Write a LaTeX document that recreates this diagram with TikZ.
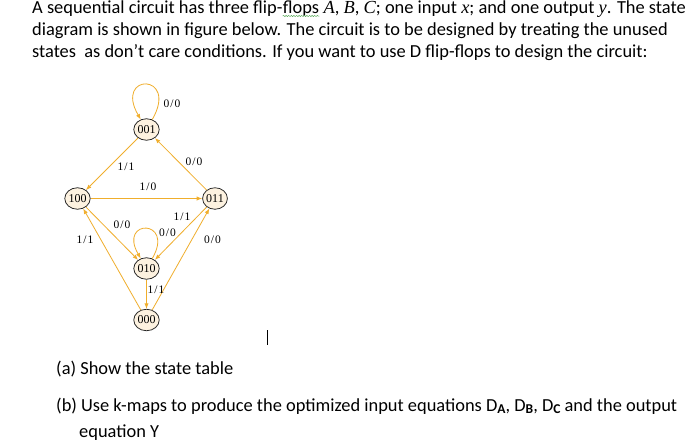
\documentclass[tikz,border=0pt]{standalone}
\usepackage{fontspec}
\setmainfont{Carlito}
\newfontfamily\serifd{Liberation Serif}
\usetikzlibrary{arrows.meta,shapes.geometric,decorations.pathmorphing}
\definecolor{edgecol}{RGB}{240,174,44}
\definecolor{nodefill}{RGB}{253,242,224}
\definecolor{nodeline}{RGB}{35,35,35}
\definecolor{squig}{RGB}{90,170,90}
\tikzset{
  state/.style={ellipse, draw=nodeline, line width=0.75pt, fill=nodefill,
    minimum width=24pt, minimum height=21.5pt, inner sep=0pt,
    font=\serifd\fontsize{12}{13}\selectfont},
  edge/.style={draw=edgecol, line width=0.8pt, -{Latex[length=5.5pt,width=4.2pt]}},
  lbl/.style={inner sep=0pt, font=\serifd\fontsize{11.5}{13}\selectfont},
  txt/.style={anchor=base west, inner sep=0pt, font=\fontsize{18.4}{22}\selectfont}
}
\newcommand{\slab}[2]{#1\kern1.1pt/\kern1.1pt#2}
\newcommand{\mvar}[1]{{\serifd\itshape #1}}
\newcommand{\subb}[1]{\raisebox{-1.8pt}{\fontsize{13.5}{15}\selectfont\bfseries #1}}
\begin{document}
\begin{tikzpicture}[x=1pt,y=-1pt]
\useasboundingbox (0,0) rectangle (694,447);
\fill[white] (0,0) rectangle (694,447);
% text
\node[txt] (t1a) at (32,13) {A sequential circuit has three flip-};
\node[txt] (t1b) at (t1a.base east) {flops};
\node[txt] (t1c) at (t1b.base east) {\ \mvar{A}, \mvar{B}, \mvar{C}; one input \mvar{x}; and one output \mvar{y}. The state};
\node[txt] (t2) at (32,35) {diagram is shown in figure below. The circuit is to be designed by treating the unused};
\node[txt] (t3) at (32,57.5) {states\ \ as don’t care conditions. If you want to use D flip-flops to design the circuit:};
\draw[squig, line width=0.5pt, decorate, decoration={snake, amplitude=0.6pt, segment length=2.6pt}] ([yshift=-3pt]t1b.base west) -- ([yshift=-3pt]t1b.base east);
% states
\node[state] (n001) at (146.5,129.5) {001};
\node[state] (n100) at (77.5,198.5) {100};
\node[state] (n011) at (215,198.5) {011};
\node[state] (n010) at (146.5,268.5) {010};
\node[state] (n000) at (146.5,320) {000};
% edges
\draw[edge] (n001.60) .. controls +(-60:54) and +(-120:54) .. (n001.120);
\draw[edge] (n001) -- (n100);
\draw[edge] (n011) -- (n001);
\draw[edge] (n100) -- (n011);
\draw[edge] (n100) -- (n010);
\draw[edge] (n011) -- (n010);
\draw[edge] (n010.60) .. controls +(-60:46) and +(-120:46) .. (n010.120);
\draw[edge] (n010) -- (n000);
\draw[edge] (n000) -- (n100);
\draw[edge] (n000) -- (n011);
% labels
\node[lbl] (l1) at (172,104) {\slab00};
\node[lbl] (l2) at (126,167) {\slab11};
\node[lbl] (l3) at (194,162) {\slab00};
\node[lbl] (l4) at (148,187) {\slab10};
\node[lbl] (l5) at (122,225) {\slab00};
\node[lbl] (l6) at (182,217) {\slab11};
\node[lbl] (l7) at (167.5,232.5) {\slab00};
\node[lbl] (l8) at (85,240) {\slab11};
\node[lbl] (l9) at (212.5,239.5) {\slab00};
\node[lbl] (l10) at (156,290) {\slab11};
% cursor
\draw[black, line width=1.3pt] (267.5,330) -- (267.5,345);
% bottom text
\node[txt] (a) at (56,374) {(a) Show the state table};
\node[txt] (b) at (56,411.5) {(b) Use k-maps to produce the optimized input equations D\subb{A}, D\subb{B}, D\subb{C} and the output};
\node[txt] (c) at (79,437) {equation Y};
\end{tikzpicture}
\end{document}
